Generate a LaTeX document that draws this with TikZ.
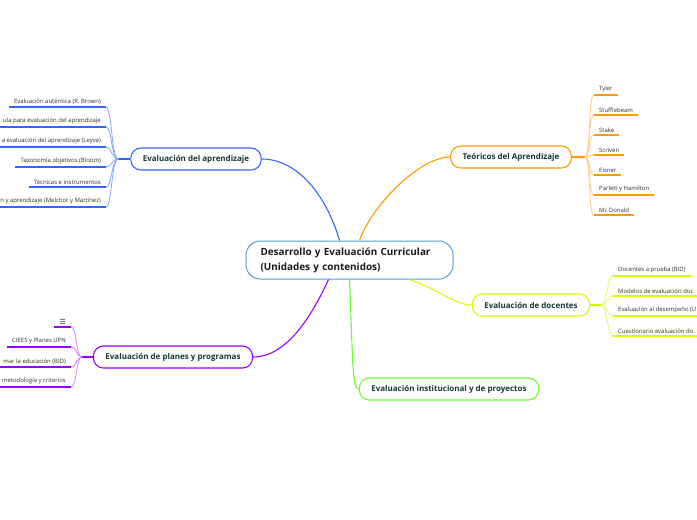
\documentclass[tikz,border=0pt]{standalone}
\usepackage{fontspec}
\setmainfont{Open Sans}
\newfontfamily\symfont{DejaVu Sans}
\usetikzlibrary{positioning,calc}
\definecolor{ctrline}{RGB}{91,155,213}
\definecolor{apblue}{RGB}{51,102,255}
\definecolor{teorange}{RGB}{255,153,0}
\definecolor{doclime}{RGB}{204,255,0}
\definecolor{plpurple}{RGB}{153,0,255}
\definecolor{insgreen}{RGB}{102,255,51}
\definecolor{toptxt}{RGB}{22,55,55}
\definecolor{leaftxt}{RGB}{45,45,45}
\tikzset{
  topic/.style={draw,rounded corners=10pt,fill=white,line width=1.1pt,
    minimum height=22pt,inner xsep=12pt,text=toptxt,
    font=\bfseries\fontsize{8}{9}\selectfont},
  leaf/.style={inner xsep=5pt,inner ysep=2.5pt,text=leaftxt,
    font=\fontsize{5.95}{7}\selectfont},
  uline/.style={line width=1.4pt,draw=#1},
  twig/.style={line width=0.8pt,draw=#1},
  bough/.style={line width=1.1pt,draw=#1},
}
\begin{document}
\begin{tikzpicture}[x=1pt,y=-1pt]
\useasboundingbox (0,0) rectangle (697,520);

% central idea
\node[draw=ctrline,rounded corners=14pt,line width=1pt,fill=white,
  minimum height=38pt,text width=178pt,inner xsep=14.5pt,align=left,
  font=\bfseries\fontsize{9.9}{15}\selectfont,text=black!90] (ctr) at (349.5,260)
  {Desarrollo y Evaluación Curricular\\(Unidades y contenidos)};

% main topics
\node[topic,draw=apblue] (apr) at (196,159) {Evaluación del aprendizaje};
\node[topic,draw=teorange] (teo) at (511,157) {Teóricos del Aprendizaje};
\node[topic,draw=doclime] (doc) at (531,305) {Evaluación de docentes};
\node[topic,draw=plpurple] (pla) at (173,357) {Evaluación de planes y programas};
\node[topic,draw=insgreen] (ins) at (449,389) {Evaluación institucional y de proyectos};

\draw[bough=apblue] ($(ctr.north)+(-10,0)$) .. controls (328,200) and (300,159) .. (apr.east);
\draw[bough=teorange] ($(ctr.north)+(10,0)$) .. controls (372,205) and (420,157) .. (teo.west);
\draw[bough=doclime] ($(ctr.south)+(60,0)$) .. controls (440,290) and (455,305) .. (doc.west);
\draw[bough=plpurple] ($(ctr.south)+(-21,0)$) .. controls (310,320) and (285,357) .. (pla.east);
\draw[bough=insgreen] (ctr.south) .. controls (353,360) and (352,389) .. (ins.west);

% Evaluacion del aprendizaje
\node[leaf,anchor=south east] (a1) at (106,107) {Evaluación auténtica (R. Brown)};
\node[leaf,anchor=south east] (a2) at (106,127) {ula para evaluación del aprendizaje};
\node[leaf,anchor=south east] (a3) at (106,147) {a evaluación del aprendizaje (Leyva)};
\node[leaf,anchor=south east] (a4) at (106,167) {Taxonomía objetivos (Bloom)};
\node[leaf,anchor=south east] (a5) at (106,187) {Técnicas e instrumentos};
\node[leaf,anchor=south east] (a6) at (106,207) {n y aprendizaje (Melchor y Martínez)};
\coordinate (aj) at ($(apr.west)+(-12,0)$);
\draw[bough=apblue] (apr.west) -- (aj);
\foreach \n in {a1,a2,a3,a4,a5,a6}{
  \draw[twig=apblue!60] (aj) .. controls +(-7,0) and +(6,0) .. (\n.south east);
  \draw[uline=apblue] (\n.south west) -- (\n.south east);
}

% Teoricos del Aprendizaje
\node[leaf,anchor=south west] (t1) at (594,95) {Tyler};
\node[leaf,anchor=south west] (t2) at (594,115) {Stufflebeam};
\node[leaf,anchor=south west] (t3) at (594,135) {Stake};
\node[leaf,anchor=south west] (t4) at (594,155) {Scriven};
\node[leaf,anchor=south west] (t5) at (594,175) {Eisner};
\node[leaf,anchor=south west] (t6) at (594,195) {Parlett y Hamilton};
\node[leaf,anchor=south west] (t7) at (594,215) {Mc Donald};
\coordinate (tj) at ($(teo.east)+(13,0)$);
\draw[bough=teorange] (teo.east) -- (tj);
\foreach \n in {t1,t2,t3,t4,t5,t6,t7}{
  \draw[twig=teorange!50] (tj) .. controls +(6,0) and +(-6,0) .. (\n.south west);
  \draw[uline=teorange] (\n.south west) -- (\n.south east);
}

% Evaluacion de docentes
\node[leaf,anchor=south west] (d1) at (613,276) {Docentes a prueba (BID)};
\node[leaf,anchor=south west] (d2) at (613,296) {Modelos de evaluación doc};
\node[leaf,anchor=south west] (d3) at (613,316) {Evaluación al desempeño (U};
\node[leaf,anchor=south west] (d4) at (613,336) {Cuestionario evaluación do};
\coordinate (dj) at ($(doc.east)+(11,0)$);
\draw[bough=doclime] (doc.east) -- (dj);
\foreach \n in {d1,d2,d3,d4}{
  \draw[twig=doclime!60] (dj) .. controls +(6,0) and +(-6,0) .. (\n.south west);
  \draw[uline=doclime] (\n.south west) -- (\n.south east);
}

% Evaluacion de planes y programas
\node[leaf,anchor=south east,font=\symfont\fontsize{7}{8}\selectfont,text=black!80] (p1) at (71,327) {☰};
\node[leaf,anchor=south east] (p2) at (71,347) {CIEES y Planes UPN};
\node[leaf,anchor=south east] (p3) at (71,367) {mar la educación (BID)};
\node[leaf,anchor=south east] (p4) at (71,387) {metodología y criterios};
\coordinate (pj) at ($(pla.west)+(-11,0)$);
\draw[bough=plpurple] (pla.west) -- (pj);
\foreach \n in {p1,p2,p3,p4}{
  \draw[twig=plpurple!50] (pj) .. controls +(-6,0) and +(6,0) .. (\n.south east);
  \draw[uline=plpurple] (\n.south west) -- (\n.south east);
}

\end{tikzpicture}
\end{document}
